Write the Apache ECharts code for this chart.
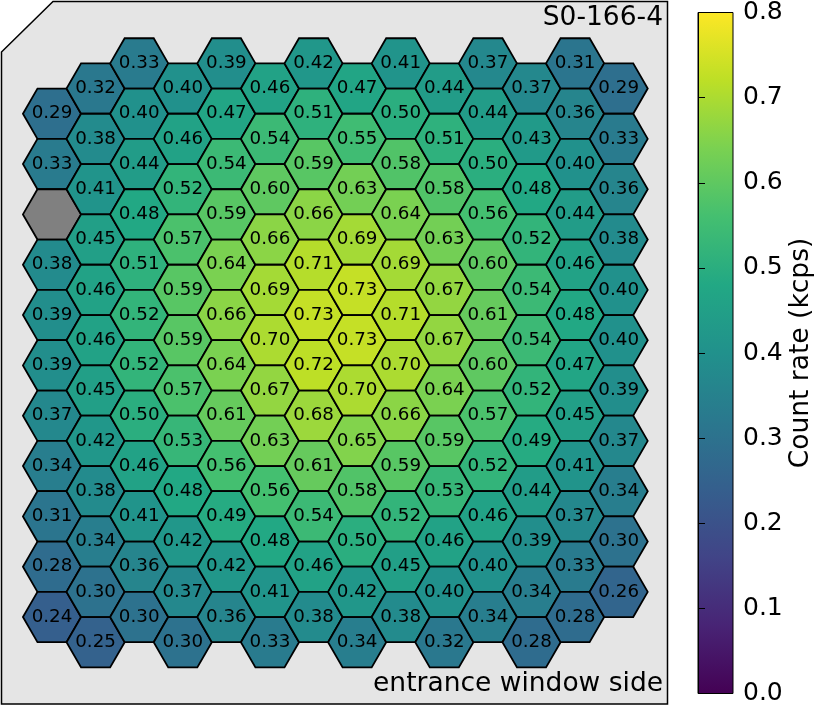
<!DOCTYPE html>
<html><head><meta charset="utf-8">
<script src="https://cdn.jsdelivr.net/npm/echarts@6/dist/echarts.min.js"></script>
<style>html,body{margin:0;padding:0;background:#fff}#c{width:817px;height:706px}</style>
</head><body><div id="c"></div>
<script>
// Count rate (kcps) per detector column, top to bottom (null = dead pixel)
const col0  = [0.29, 0.33, null, 0.38, 0.39, 0.39, 0.37, 0.34, 0.31, 0.28, 0.24];
const col1  = [0.32, 0.38, 0.41, 0.45, 0.46, 0.46, 0.45, 0.42, 0.38, 0.34, 0.30, 0.25];
const col2  = [0.33, 0.40, 0.44, 0.48, 0.51, 0.52, 0.52, 0.50, 0.46, 0.41, 0.36, 0.30];
const col3  = [0.40, 0.46, 0.52, 0.57, 0.59, 0.59, 0.57, 0.53, 0.48, 0.42, 0.37, 0.30];
const col4  = [0.39, 0.47, 0.54, 0.59, 0.64, 0.66, 0.64, 0.61, 0.56, 0.49, 0.42, 0.36];
const col5  = [0.46, 0.54, 0.60, 0.66, 0.69, 0.70, 0.67, 0.63, 0.56, 0.48, 0.41, 0.33];
const col6  = [0.42, 0.51, 0.59, 0.66, 0.71, 0.73, 0.72, 0.68, 0.61, 0.54, 0.46, 0.38];
const col7  = [0.47, 0.55, 0.63, 0.69, 0.73, 0.73, 0.70, 0.65, 0.58, 0.50, 0.42, 0.34];
const col8  = [0.41, 0.50, 0.58, 0.64, 0.69, 0.71, 0.70, 0.66, 0.59, 0.52, 0.45, 0.38];
const col9  = [0.44, 0.51, 0.58, 0.63, 0.67, 0.67, 0.64, 0.59, 0.53, 0.46, 0.40, 0.32];
const col10 = [0.37, 0.44, 0.50, 0.56, 0.60, 0.61, 0.60, 0.57, 0.52, 0.46, 0.40, 0.34];
const col11 = [0.37, 0.43, 0.48, 0.52, 0.54, 0.54, 0.52, 0.49, 0.44, 0.39, 0.34, 0.28];
const col12 = [0.31, 0.36, 0.40, 0.44, 0.46, 0.48, 0.47, 0.45, 0.41, 0.37, 0.33, 0.28];
const col13 = [0.29, 0.33, 0.36, 0.38, 0.40, 0.40, 0.39, 0.37, 0.34, 0.30, 0.26];
const columns = [col0, col1, col2, col3, col4, col5, col6, col7, col8, col9, col10, col11, col12, col13];
// first hex-row index of each column
const columnStartRow = [1, 0, 0, 0, 0, 0, 0, 0, 0, 0, 0, 0, 0, 0];

const colorbarMin = 0.0;
const colorbarMax = 0.8;
const colorbarStep = 0.1;
const titleText = 'S0-166-4';
const sideText = 'entrance window side';
const colorbarLabel = 'Count rate (kcps)';
const viridis = ['#440154', '#482475', '#414487', '#355f8d', '#2a788e', '#21918c',
                 '#22a884', '#44bf70', '#7ad151', '#bddf26', '#fde725'];

const SQ3 = Math.sqrt(3);
const cells = [];
columns.forEach((vals, c) => {
  vals.forEach((v, i) => {
    const row = columnStartRow[c] + i;
    cells.push([1.5 * c, SQ3 * (row + (c % 2) * 0.5), v === null ? NaN : v]);
  });
});

const FONT = '"DejaVu Sans", "Liberation Sans", sans-serif';

function renderHex(params, api) {
  const cx = api.value(0), cy = api.value(1), v = api.value(2);
  const pts = [];
  for (let k = 0; k < 6; k++) {
    const a = Math.PI / 3 * k;
    pts.push(api.coord([cx + Math.cos(a), cy + Math.sin(a)]));
  }
  const p0 = api.coord([cx, cy]);
  const missing = isNaN(v);
  const children = [{
    type: 'polygon',
    shape: { points: pts },
    style: { fill: missing ? '#808080' : api.visual('color'), stroke: '#000', lineWidth: 1.8 }
  }];
  if (!missing) {
    children.push({
      type: 'text', x: p0[0], y: p0[1],
      style: { text: v.toFixed(2), fill: '#000', font: '18.3px ' + FONT, align: 'center', verticalAlign: 'middle' }
    });
  }
  return { type: 'group', children: children };
}

const chart = echarts.init(document.getElementById('c'), null, { renderer: 'canvas' });
const stops = viridis.map((c, i) => ({ offset: i / (viridis.length - 1), color: c }));

chart.setOption({
  animation: false,
  backgroundColor: '#fff',
  grid: [
    { left: 22.94, top: 34.34, width: 624.8, height: 639.3 },
    { left: 698, top: 11.7, width: 35, height: 682.3, show: true, borderColor: '#000', borderWidth: 1,
      backgroundColor: new echarts.graphic.LinearGradient(0, 1, 0, 0, stops) }
  ],
  xAxis: [
    { gridIndex: 0, type: 'value', min: -1, max: 20.5, show: false },
    { gridIndex: 1, type: 'value', min: 0, max: 1, show: false }
  ],
  yAxis: [
    { gridIndex: 0, type: 'value', min: -1, max: 21, inverse: true, show: false },
    { gridIndex: 1, type: 'value', min: colorbarMin, max: colorbarMax, interval: colorbarStep, position: 'right',
      axisLine: { show: true, lineStyle: { color: '#000', width: 1 } },
      axisTick: { show: true, length: 7, lineStyle: { color: '#000', width: 1 } },
      axisLabel: { fontSize: 25, color: '#000', fontFamily: FONT, margin: 10, formatter: v => v.toFixed(1) },
      splitLine: { show: false },
      name: colorbarLabel, nameLocation: 'middle', nameRotate: 90, nameGap: 55,
      nameTextStyle: { fontSize: 26.5, color: '#000', fontFamily: FONT } }
  ],
  visualMap: {
    type: 'continuous', show: false, min: colorbarMin, max: colorbarMax, dimension: 2, seriesIndex: 0,
    inRange: { color: viridis }
  },
  graphic: [
    { type: 'polygon', z: -10, silent: true,
      shape: { points: [[1.5, 52], [53, 1.5], [667.5, 1.5], [667.5, 704], [1.5, 704]] },
      style: { fill: '#e5e5e5', stroke: '#000', lineWidth: 1.5 } },
    { type: 'text', x: 663, y: 18, style: { text: titleText, fill: '#000', font: '26.5px ' + FONT, align: 'right', verticalAlign: 'middle' } },
    { type: 'text', x: 663, y: 684, style: { text: sideText, fill: '#000', font: '26.5px ' + FONT, align: 'right', verticalAlign: 'middle' } }
  ],
  series: [
    { type: 'custom', xAxisIndex: 0, yAxisIndex: 0, renderItem: renderHex, data: cells, clip: false }
  ]
});
</script></body></html>
